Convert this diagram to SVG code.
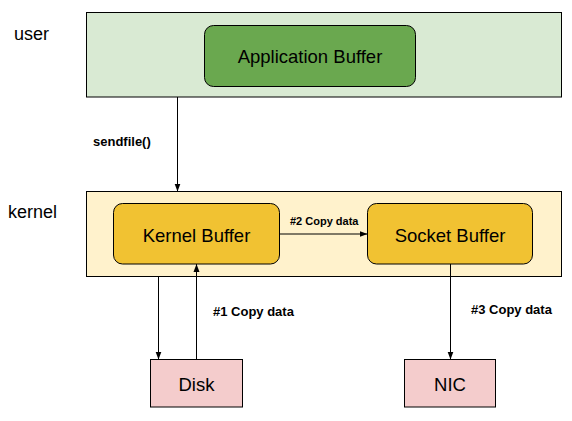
<svg xmlns="http://www.w3.org/2000/svg" width="572" height="421" viewBox="0 0 572 421">
<style>
text{font-family:"Liberation Sans",Arial,sans-serif;fill:#000}
.big{font-size:18.5px;text-anchor:middle;dominant-baseline:central}
.side{font-size:18px}
.lbl{font-size:13px;font-weight:bold}
.sm{font-size:11px;font-weight:bold}
.box{stroke:#000;stroke-width:1}
.edge{stroke:#000;stroke-width:1;fill:none;marker-end:url(#ah)}
</style>
<defs>
<marker id="ah" viewBox="0 0 8 8" refX="8" refY="4" markerWidth="8" markerHeight="8" markerUnits="userSpaceOnUse" orient="auto">
<path d="M0,1 L8,4 L0,7 Z" fill="#000"/>
</marker>
</defs>
<rect width="572" height="421" fill="#fff"/>
<g id="user-space">
<rect class="box" x="86.5" y="12.5" width="475" height="84.5" fill="#d9ead3"/>
<text class="side" x="14" y="40">user</text>
</g>
<g id="kernel-space">
<rect class="box" x="86.5" y="191.5" width="475" height="85" fill="#fff2cc"/>
<text class="side" x="8" y="218">kernel</text>
</g>
<g id="app-buffer">
<rect class="box" x="204.5" y="25.5" width="211" height="61" rx="9" fill="#6aa84f"/>
<text class="big" x="310" y="56">Application Buffer</text>
</g>
<g id="kernel-buffer">
<rect class="box" x="113.5" y="203.5" width="166" height="60.5" rx="9" fill="#f1c232"/>
<text class="big" x="196.5" y="235">Kernel Buffer</text>
</g>
<g id="socket-buffer">
<rect class="box" x="367.5" y="203.5" width="165" height="60.5" rx="9" fill="#f1c232"/>
<text class="big" x="450" y="235">Socket Buffer</text>
</g>
<g id="disk">
<rect class="box" x="150.5" y="359.5" width="92" height="47.5" fill="#f4cccc"/>
<text class="big" x="196.5" y="384">Disk</text>
</g>
<g id="nic">
<rect class="box" x="404.5" y="359.5" width="91" height="47.5" fill="#f4cccc"/>
<text class="big" x="450" y="384">NIC</text>
</g>
<g id="connectors">
<path class="edge" d="M177.5,97 L177.5,191.5"/>
<text class="lbl" x="93" y="146">sendfile()</text>
<path class="edge" d="M279.5,234 L367.5,234"/>
<text class="sm" x="290" y="225">#2 Copy data</text>
<path class="edge" d="M158.5,276.5 L158.5,359.5"/>
<path class="edge" d="M196.5,359.5 L196.5,264"/>
<text class="lbl" x="213" y="316">#1 Copy data</text>
<path class="edge" d="M450.5,264 L450.5,359.5"/>
<text class="lbl" x="471" y="314">#3 Copy data</text>
</g>
</svg>
